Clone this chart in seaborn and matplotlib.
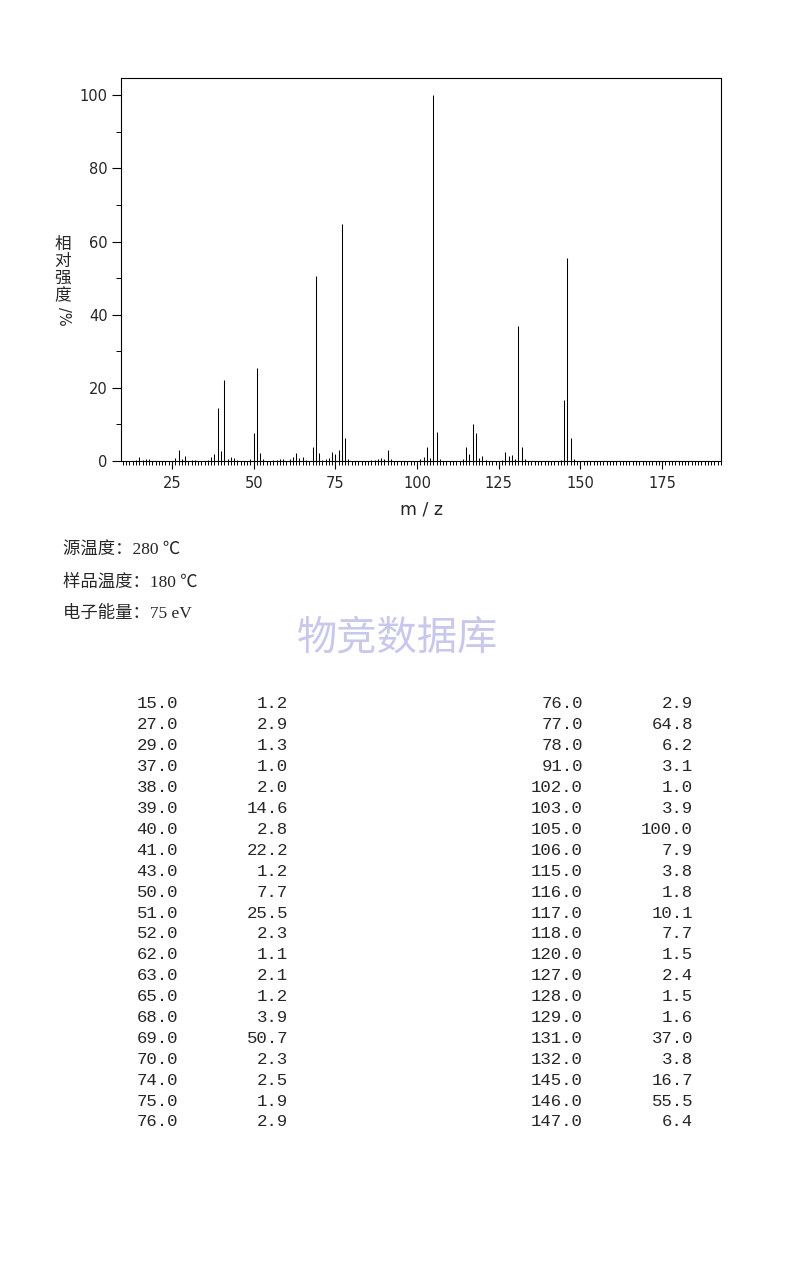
import matplotlib
matplotlib.use("Agg")
import matplotlib.pyplot as plt
from matplotlib.ticker import MultipleLocator
import seaborn as sns
import pandas as pd

# listed peaks (m/z, relative intensity %)
mz = [15, 27, 29, 37, 38, 39, 40, 41, 43, 50, 51, 52, 62, 63, 65, 68, 69, 70, 74, 75, 76,
      77, 78, 91, 102, 103, 105, 106, 115, 116, 117, 118, 120, 127, 128, 129, 131, 132,
      145, 146, 147]
intensity = [1.2, 2.9, 1.3, 1.0, 2.0, 14.6, 2.8, 22.2, 1.2, 7.7, 25.5, 2.3, 1.1, 2.1, 1.2,
             3.9, 50.7, 2.3, 2.5, 1.9, 2.9, 64.8, 6.2, 3.1, 1.0, 3.9, 100.0, 7.9, 3.8, 1.8,
             10.1, 7.7, 1.5, 2.4, 1.5, 1.6, 37.0, 3.8, 16.7, 55.5, 6.4]

# weak peaks below 1 %, estimated from the plot
minor_mz = [14, 16, 17, 18, 26, 28, 31, 32, 36, 42, 44, 45, 49, 53, 56, 57, 58, 59, 61, 64,
            66, 71, 72, 73, 79, 86, 87, 88, 89, 90, 92, 101, 104, 107, 114, 119, 121, 126,
            130, 133, 144, 148]
minor_int = [0.4, 0.3, 0.5, 0.6, 0.9, 0.6, 0.3, 0.3, 0.4, 0.6, 0.8, 0.4, 0.6, 0.5, 0.3, 0.4,
             0.5, 0.6, 0.6, 0.8, 0.4, 0.3, 0.6, 0.8, 0.6, 0.4, 0.4, 0.5, 0.8, 0.6, 0.5, 0.5,
             0.8, 0.6, 0.6, 0.8, 0.4, 0.4, 0.6, 0.5, 0.4, 0.6]

info_lines = ["源温度：280 ℃", "样品温度：180 ℃", "电子能量：75 eV"]
watermark = "物竞数据库"

peaks = pd.DataFrame({"mz": mz + minor_mz, "intensity": intensity + minor_int})

sns.set_theme(style="ticks")
plt.rcParams["font.family"] = ["DejaVu Sans", "Noto Sans CJK SC"]

W, H = 794, 1276
fig = plt.figure(figsize=(W / 100, H / 100), dpi=100)
ax = fig.add_axes([121 / W, 1 - 461 / H, 600 / W, 383 / H])

ax.vlines(peaks["mz"], 0, peaks["intensity"], color="black", linewidth=0.75)

ax.set_xlim(9.4, 193)
ax.set_ylim(0, 104.7)
ax.xaxis.set_major_locator(MultipleLocator(25))
ax.xaxis.set_minor_locator(MultipleLocator(1))
ax.yaxis.set_major_locator(MultipleLocator(20))
ax.yaxis.set_minor_locator(MultipleLocator(10))
ax.tick_params(axis="x", which="major", length=5.5, width=0.8, pad=5.5, labelsize=10.5, color="black")
ax.tick_params(axis="x", which="minor", length=3.2, width=0.7, color="black")
ax.tick_params(axis="y", which="major", length=6.5, width=0.8, pad=3, labelsize=10.5, color="black")
ax.tick_params(axis="y", which="minor", length=3.5, width=0.7, color="black")
for s in ax.spines.values():
    s.set_visible(True)
    s.set_linewidth(0.8)
    s.set_color("black")

ax.set_xlabel("m / z", fontsize=12.5, labelpad=7)

# stacked y label
fig.text(63 / W, 1 - 270 / H, "相\n对\n强\n度", ha="center", va="center",
         fontsize=12, linespacing=1.0, family=["Noto Sans CJK SC"])
fig.text(64 / W, 1 - 316 / H, "/%", ha="center", va="center", rotation=-90, fontsize=10.5)

# acquisition info
for i, line in enumerate(info_lines):
    fig.text(63 / W, 1 - (551 + 31.5 * i) / H, line, ha="left", va="center", fontsize=12.5,
             family=["Liberation Serif", "Noto Sans CJK SC"])

fig.text(397 / W, 1 - 638 / H, watermark, ha="center", va="center", fontsize=29,
         color="#c8c8ec", family=["Noto Sans CJK SC"])

# peak table, two columns
left = list(zip(mz[:21], intensity[:21]))
right = list(zip(mz[20:], intensity[20:]))
for col, (xa, xb) in zip([left, right], [(178, 288), (583, 693)]):
    for i, (m, v) in enumerate(col):
        y = 1 - (704 + 20.9 * i) / H
        fig.text(xa / W, y, f"{m:.1f}", ha="right", va="center", fontsize=12.5,
                 family="Liberation Mono")
        fig.text(xb / W, y, f"{v:.1f}", ha="right", va="center", fontsize=12.5,
                 family="Liberation Mono")

fig.savefig("out.png", dpi=100, facecolor="white")
